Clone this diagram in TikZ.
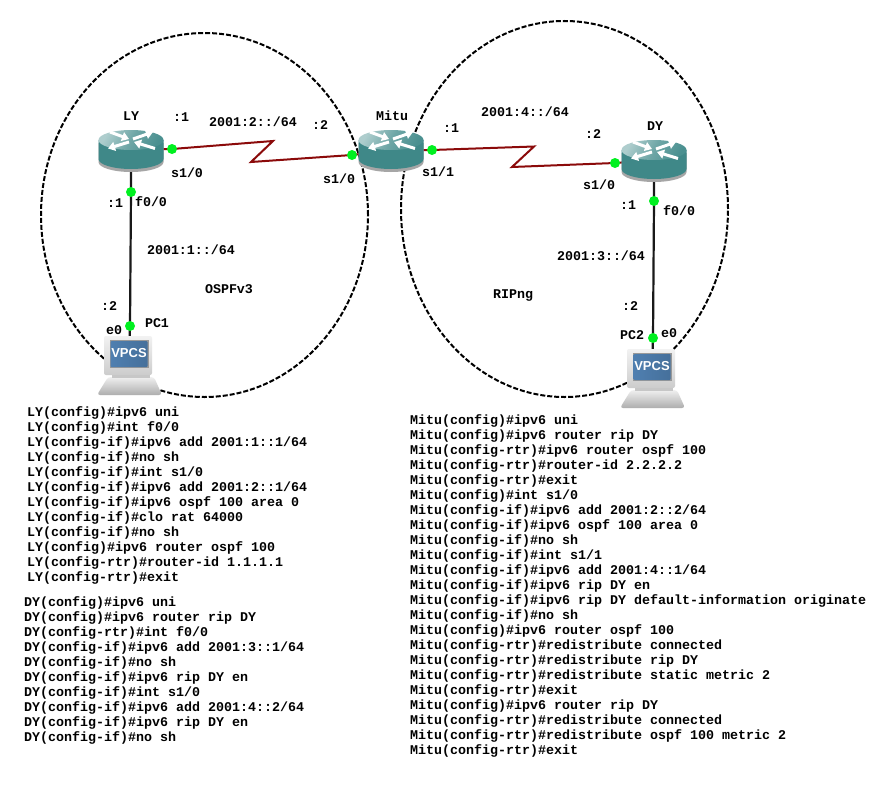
\documentclass[tikz,border=0pt]{standalone}
\usepackage{fontspec}
\setmainfont{Liberation Mono}
\usetikzlibrary{shapes.geometric,backgrounds,arrows.meta}
\definecolor{tealtop}{HTML}{4A9090}
\definecolor{tealside}{HTML}{3F8888}
\definecolor{linkred}{HTML}{8B0A0A}
\definecolor{portgreen}{HTML}{00F020}
\definecolor{vblue}{HTML}{4F7FB0}
\tikzset{
  txt/.style={font=\fontsize{13.33}{15}\selectfont\bfseries,inner sep=0pt,text=black},
  cfg/.style={txt,align=left,anchor=north west},
  anchorbox/.style={inner sep=0pt,minimum width=60pt,minimum height=40pt},
  port/.style={circle,fill=portgreen,inner sep=0pt,minimum size=10pt},
  zone/.style={ellipse,draw=black,line width=2pt,dash pattern=on 5pt off 2pt,inner sep=0pt},
  serial/.style={draw=linkred,line width=2pt,line join=miter},
  eth/.style={draw=black!90,line width=2.2pt},
  xarrow/.style={draw=white,line width=3pt,-{Triangle[length=7pt,width=9pt]}},
  router/.pic={
    \fill[black!35] (-32.5,3) -- (-32.5,22) arc[x radius=32.5,y radius=10,start angle=180,delta angle=-180] -- (32.5,3) -- cycle;
    \fill[tealside] (-32.5,0) -- (-32.5,19) arc[x radius=32.5,y radius=10,start angle=180,delta angle=-180] -- (32.5,0) -- cycle;
    \shade[left color=white!55!tealtop,right color=tealtop,middle color=tealtop!80!white,shading angle=60] (0,0) ellipse[x radius=32.5,y radius=10];
    \draw[xarrow] (-21,-8) -- (-2,-1);
    \draw[xarrow] (2,-1) -- (22,-8);
    \draw[xarrow] (-2,2) -- (-23,8.5);
    \draw[xarrow] (24,8.5) -- (3,2);
  },
  vpcs/.pic={
    \shade[top color=black!6,bottom color=black!32,rounded corners=3pt] (-21,20) -- (25,20) -- (33,38) -- (-32,38) -- cycle;
    \fill[black!22] (-17,17) rectangle (21,21);
    \shade[top color=black!5,bottom color=black!20,rounded corners=2pt] (-25,-21) rectangle (23,18);
    \fill[black!40] (-19.5,-17) rectangle (19.5,11);
    \shade[left color=vblue,right color=vblue!88!black,rounded corners=1pt] (-18.5,-16) rectangle (18.5,10);
    \node[font=\fontsize{13}{13}\selectfont\bfseries,text=white,inner sep=0pt] at (0,-4) {\fontspec{Liberation Sans}VPCS};
  }
}
\begin{document}
\begin{tikzpicture}[x=1pt,y=-1pt]
\useasboundingbox (0,0) rectangle (890,797);
% devices
\node[anchorbox] (LY) at (131,150) {};
\node[anchorbox] (Mitu) at (391,150) {};
\node[anchorbox] (DY) at (654,160) {};
\node[anchorbox] (PC1) at (129,357) {};
\node[anchorbox] (PC2) at (652,370) {};
\pic at (131,140) {router};
\pic at (391,140) {router};
\pic at (654,150) {router};
\pic at (129,357) {vpcs};
\pic at (652,370) {vpcs};
% ports
\node[port] (pLYs) at (172,149) {};
\node[port] (pLYf) at (131,192) {};
\node[port] (pPC1) at (130,326) {};
\node[port] (pMa) at (352,155) {};
\node[port] (pMb) at (432,150) {};
\node[port] (pDYs) at (615,163) {};
\node[port] (pDYf) at (654,201) {};
\node[port] (pPC2) at (653,338) {};
\coordinate (za1) at (273,141);
\coordinate (za2) at (251,162);
\coordinate (zb1) at (534,146.5);
\coordinate (zb2) at (512,167);
\begin{scope}[on background layer]
  \fill[white] (0,0) rectangle (890,797);
  \node[zone,minimum width=327pt,minimum height=364pt] (ospf) at (204.5,215) {};
  \node[zone,minimum width=327pt,minimum height=376pt] (rip) at (564.5,209) {};
  \draw[serial] (LY.center) -- (pLYs.center) -- (za1) -- (za2) -- (pMa.center) -- (Mitu.center);
  \draw[serial] (Mitu.center) -- (pMb.center) -- (zb1) -- (zb2) -- (pDYs.center) -- (DY.center);
  \draw[eth] (LY.center) -- (pLYf.center) -- (pPC1.center) -- (PC1.center);
  \draw[eth] (DY.center) -- (pDYf.center) -- (pPC2.center) -- (PC2.center);
\end{scope}
% labels
\node[txt] (t1) at (131,116) {LY};
\node[txt] (t2) at (181,117) {:1};
\node[txt] (t3) at (253,122) {2001:2::/64};
\node[txt] (t4) at (320,125) {:2};
\node[txt] (t5) at (187,173) {s1/0};
\node[txt] (t6) at (339,179) {s1/0};
\node[txt] (t7) at (392,116) {Mitu};
\node[txt] (t8) at (438,172) {s1/1};
\node[txt] (t9) at (451,128) {:1};
\node[txt] (t10) at (525,112) {2001:4::/64};
\node[txt] (t11) at (593,134) {:2};
\node[txt] (t12) at (655,126) {DY};
\node[txt] (t13) at (599,185) {s1/0};
\node[txt] (t14) at (628,205) {:1};
\node[txt] (t15) at (679,211) {f0/0};
\node[txt] (t16) at (601,256) {2001:3::/64};
\node[txt] (t17) at (513,296) {RIPng};
\node[txt] (t18) at (229,289) {OSPFv3};
\node[txt] (t19) at (191,250) {2001:1::/64};
\node[txt] (t20) at (115,203) {:1};
\node[txt] (t21) at (151,202) {f0/0};
\node[txt] (t22) at (109,306) {:2};
\node[txt] (t23) at (114,330) {e0};
\node[txt] (t24) at (157,323) {PC1};
\node[txt] (t25) at (630,306) {:2};
\node[txt] (t26) at (632,335) {PC2};
\node[txt] (t27) at (669,333) {e0};
% configs
\node[cfg] (c1) at (27,406) {LY(config)\#ipv6 uni\\
LY(config)\#int f0/0\\
LY(config-if)\#ipv6 add 2001:1::1/64\\
LY(config-if)\#no sh\\
LY(config-if)\#int s1/0\\
LY(config-if)\#ipv6 add 2001:2::1/64\\
LY(config-if)\#ipv6 ospf 100 area 0\\
LY(config-if)\#clo rat 64000\\
LY(config-if)\#no sh\\
LY(config)\#ipv6 router ospf 100\\
LY(config-rtr)\#router-id 1.1.1.1\\
LY(config-rtr)\#exit};
\node[cfg] (c2) at (24,596) {DY(config)\#ipv6 uni\\
DY(config)\#ipv6 router rip DY\\
DY(config-rtr)\#int f0/0\\
DY(config-if)\#ipv6 add 2001:3::1/64\\
DY(config-if)\#no sh\\
DY(config-if)\#ipv6 rip DY en\\
DY(config-if)\#int s1/0\\
DY(config-if)\#ipv6 add 2001:4::2/64\\
DY(config-if)\#ipv6 rip DY en\\
DY(config-if)\#no sh};
\node[cfg] (c3) at (410,414) {Mitu(config)\#ipv6 uni\\
Mitu(config)\#ipv6 router rip DY\\
Mitu(config-rtr)\#ipv6 router ospf 100\\
Mitu(config-rtr)\#router-id 2.2.2.2\\
Mitu(config-rtr)\#exit\\
Mitu(config)\#int s1/0\\
Mitu(config-if)\#ipv6 add 2001:2::2/64\\
Mitu(config-if)\#ipv6 ospf 100 area 0\\
Mitu(config-if)\#no sh\\
Mitu(config-if)\#int s1/1\\
Mitu(config-if)\#ipv6 add 2001:4::1/64\\
Mitu(config-if)\#ipv6 rip DY en\\
Mitu(config-if)\#ipv6 rip DY default-information originate\\
Mitu(config-if)\#no sh\\
Mitu(config)\#ipv6 router ospf 100\\
Mitu(config-rtr)\#redistribute connected\\
Mitu(config-rtr)\#redistribute rip DY\\
Mitu(config-rtr)\#redistribute static metric 2\\
Mitu(config-rtr)\#exit\\
Mitu(config)\#ipv6 router rip DY\\
Mitu(config-rtr)\#redistribute connected\\
Mitu(config-rtr)\#redistribute ospf 100 metric 2\\
Mitu(config-rtr)\#exit};
\end{tikzpicture}
\end{document}
